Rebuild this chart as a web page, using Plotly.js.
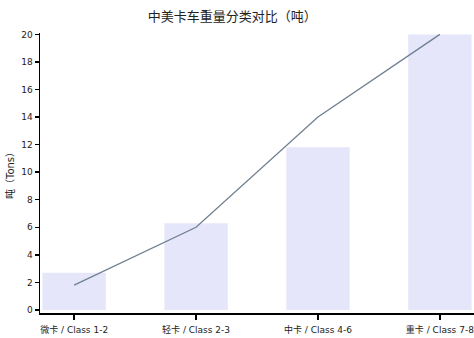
<!DOCTYPE html>
<html>
<head>
<meta charset="utf-8">
<script src="https://cdn.plot.ly/plotly-3.0.1.min.js"></script>
<style>
  html, body { margin: 0; padding: 0; background: #fff; }
  #chart { width: 474px; height: 338px; }
</style>
</head>
<body>
<div id="chart"></div>
<script>
// Truck weight classes (China / US)
const categories = ["微卡 / Class 1-2", "轻卡 / Class 2-3", "中卡 / Class 4-6", "重卡 / Class 7-8"];
// Chinese classification weights (tons)
const chinaTons = [2.7, 6.3, 11.8, 20];
// US classification weights (tons)
const usTons = [1.8, 6, 14, 20];

const font = "DejaVu Sans, 'Noto Sans CJK SC', sans-serif";

const traces = [
  {
    type: "bar",
    x: categories,
    y: chinaTons,
    marker: { color: "rgb(230,230,250)" },
    hoverinfo: "x+y"
  },
  {
    type: "scatter",
    mode: "lines",
    x: categories,
    y: usTons,
    line: { color: "rgb(112,128,144)", width: 1.3 }
  }
];

const layout = {
  width: 474,
  height: 338,
  showlegend: false,
  paper_bgcolor: "#fff",
  plot_bgcolor: "#fff",
  margin: { l: 40, r: 0, t: 33, b: 25 },
  bargap: 0.48,
  font: { family: font, size: 9, color: "#222" },
  title: {
    text: "中美卡车重量分类对比（吨）",
    font: { family: "'Noto Sans CJK SC', sans-serif", size: 13, color: "#222" },
    x: 0.49, xref: "container", xanchor: "center",
    y: 0.965, yref: "container"
  },
  xaxis: {
    type: "category",
    range: [-0.28, 3.28],
    showline: true, linecolor: "#000", linewidth: 1.5,
    ticks: "outside", ticklen: 5, tickcolor: "#000", tickwidth: 1.5,
    ticklabelstandoff: 3,
    showgrid: false, zeroline: false,
    tickfont: { family: font, size: 9, color: "#222" }
  },
  yaxis: {
    range: [-0.22, 20.1],
    dtick: 2,
    showline: true, linecolor: "#000", linewidth: 1.5,
    ticks: "outside", ticklen: 4, tickcolor: "#000", tickwidth: 1.5,
    showgrid: false, zeroline: false,
    tickfont: { family: font, size: 9, color: "#222" },
    title: {
      text: "吨（Tons）",
      font: { family: font, size: 10, color: "#222" },
      standoff: 4
    }
  }
};

Plotly.newPlot("chart", traces, layout, { displayModeBar: false, staticPlot: true });
</script>
</body>
</html>
